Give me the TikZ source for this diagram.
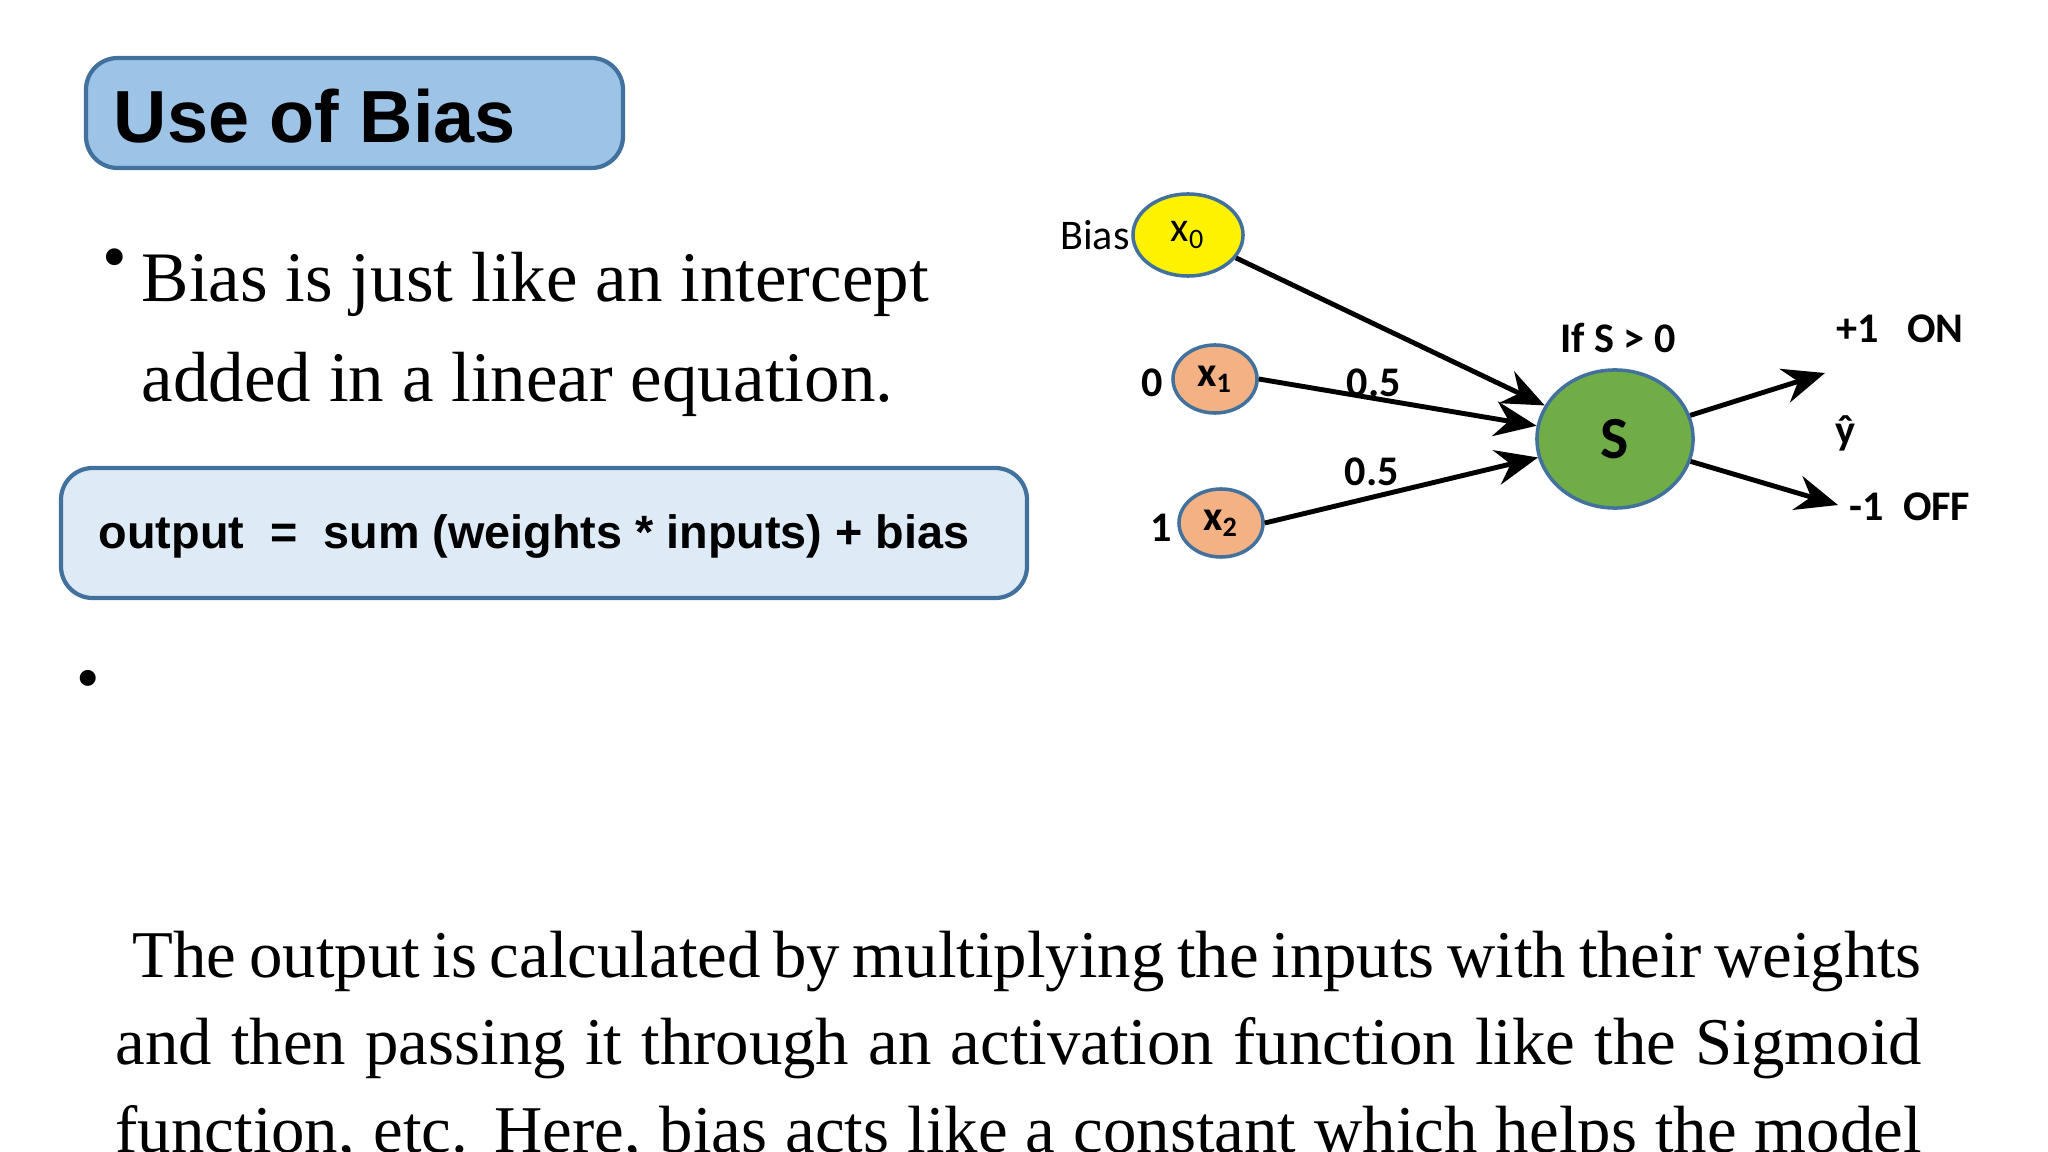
\documentclass[tikz,border=0pt]{standalone}
\usepackage{fontspec}
\setmainfont{Liberation Serif}
\setsansfont{Liberation Sans}
\newfontfamily\calfont{Carlito}
\usetikzlibrary{arrows.meta,shapes.geometric}
\definecolor{boxline}{HTML}{41719C}
\definecolor{titlefill}{HTML}{9DC3E6}
\definecolor{formfill}{HTML}{DEEBF7}
\definecolor{salmon}{HTML}{F4B183}
\definecolor{sgreen}{HTML}{70AD47}
\tikzset{
  box/.style={draw=boxline, line width=1.2pt, rounded corners=9pt},
  neuron/.style={ellipse, draw=boxline, line width=1pt, inner sep=0pt},
  lbl/.style={font=\calfont\fontsize{12}{14}\selectfont\bfseries, inner sep=0pt},
  conn/.style={line width=1.4pt, -{Stealth[length=12pt,width=10pt,inset=4pt]}},
  para/.style={font=\fontsize{19}{25}\selectfont, inner sep=0pt, align=justify}
}
\begin{document}
\begin{tikzpicture}[x=0.01cm,y=-0.01cm]
\useasboundingbox[fill=white] (0,0) rectangle (2048,1152);
% title
\draw[box, fill=titlefill] (86,58) rectangle (623,168);
\node[anchor=base west, inner sep=0pt, font=\sffamily\bfseries\fontsize{21}{24}\selectfont] (title) at (113,143) {Use of Bias};
% bullet 1
\node[anchor=base west, inner sep=0pt, font=\fontsize{20}{25}\selectfont] (b1) at (102,281) {\textbullet};
\node[anchor=base west, inner sep=0pt, align=left, font=\fontsize{20.2}{28.5}\selectfont] (t1) at (141,402) {Bias is just like an intercept\\added in a linear equation.};
% formula
\draw[box, fill=formfill] (61,468) rectangle (1027,598);
\node[anchor=base west, inner sep=0pt, font=\sffamily\bfseries\fontsize{13.3}{16}\selectfont] (form) at (98,548) {output\ \ =\ \ sum (weights * inputs) + bias};
% bullet 2
\node[anchor=base west, inner sep=0pt, font=\fontsize{19}{25}\selectfont] (b2) at (76,700) {\textbullet};
\node[para, anchor=base west, text width=18.05cm] (t2) at (115,977) {\hspace*{0.17cm}The output is calculated by multiplying the inputs with their weights and then passing it through an activation function like the Sigmoid function, etc. Here, bias acts like a constant which helps the model to fit the given data.};
% diagram
\node[neuron, fill=yellow, minimum width=1.10cm, minimum height=0.82cm] (x0) at (1188,235) {\calfont\fontsize{12}{14}\selectfont x\textsubscript{0}};
\node[neuron, fill=salmon, minimum width=0.84cm, minimum height=0.68cm] (x1) at (1215,379) {\calfont\fontsize{12}{14}\selectfont\bfseries x\textsubscript{1}};
\node[neuron, fill=salmon, minimum width=0.84cm, minimum height=0.68cm] (x2) at (1221,523) {\calfont\fontsize{12}{14}\selectfont\bfseries x\textsubscript{2}};
\node[neuron, fill=sgreen, minimum width=1.56cm, minimum height=1.38cm] (S) at (1615,439) {\calfont\fontsize{17}{20}\selectfont\bfseries S};
\node[font=\calfont\fontsize{12}{14}\selectfont, inner sep=0pt] (bias) at (1095,235) {Bias};
\node[lbl] (l0) at (1152,383) {0};
\node[lbl] (l1) at (1161,528) {1};
\node[lbl] (w1) at (1374,383) {0.5};
\node[lbl] (w2) at (1372,472) {0.5};
\node[lbl] (if) at (1618,338) {If S > 0};
\node[lbl] (on) at (1900,329) {+1\ \ \ ON};
\node[lbl] (yh) at (1845,433) {ŷ};
\node[lbl] (off) at (1910,507) {-1\ \ OFF};
\coordinate (e1) at (1825,373);
\coordinate (e2) at (1838,505);
\draw[conn] (x0) -- (S);
\draw[conn] (x1.east) -- (S);
\draw[conn] (x2.east) -- (S);
\draw[conn] (S) -- (e1);
\draw[conn] (S) -- (e2);
\end{tikzpicture}
\end{document}
